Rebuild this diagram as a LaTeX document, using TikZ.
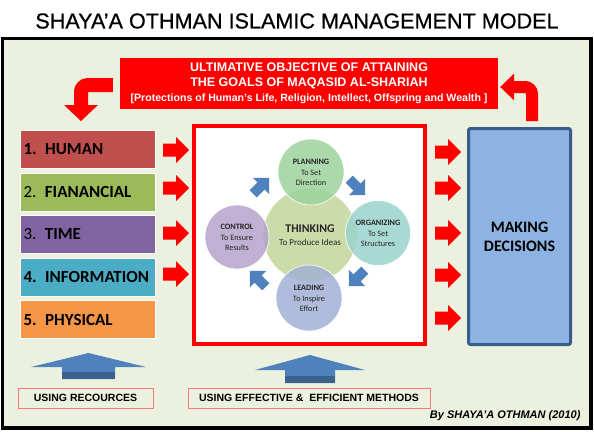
\documentclass[tikz,border=0pt]{standalone}
\usepackage{fontspec}
\setmainfont{Liberation Sans}
\newfontfamily\calibri{Carlito}
\newfontfamily\titlefont{Liberation Sans}[FakeBold=0.6, Ligatures=TeX]
\usetikzlibrary{positioning,shapes,arrows.meta}

\definecolor{panelbg}{HTML}{EBF1DE}
\definecolor{humanred}{HTML}{C0504D}
\definecolor{fingreen}{HTML}{9BBB59}
\definecolor{timepurple}{HTML}{8064A2}
\definecolor{infoaqua}{HTML}{4BACC6}
\definecolor{physorange}{HTML}{F79646}
\definecolor{decblue}{HTML}{8DB3E2}
\definecolor{decborder}{HTML}{385D8A}
\definecolor{arrowblue}{HTML}{4F81BD}
\definecolor{labelpink}{HTML}{F47C7C}
\definecolor{thinkgreen}{HTML}{C3D69B}
\definecolor{plangreen}{HTML}{9DD39D}
\definecolor{organteal}{HTML}{9BD3CC}
\definecolor{leadblue}{HTML}{A3B1D5}
\definecolor{ctrlpurple}{HTML}{B5A3CC}

\tikzstyle{resource}=[rectangle, draw=white, line width=1pt, minimum width=135pt, minimum height=38pt, text width=129pt, align=left, inner xsep=3pt, text=black, font=\calibri\bfseries\fontsize{17}{20}\selectfont]
\tikzstyle{bubble}=[circle, draw=white, line width=0.6pt, fill opacity=0.85, text opacity=1, align=center, text=black!85, inner sep=0pt, font=\calibri\fontsize{8.2}{9.5}\selectfont]
\tikzstyle{usage}=[rectangle, draw=labelpink, line width=0.8pt, minimum height=20pt, font=\bfseries\fontsize{10.5}{12}\selectfont]
\tikzstyle{bent}=[red, rounded corners=7pt]
\tikzset{
  redarrow/.pic={\fill[red] (0,-6.5) -- (13,-6.5) -- (13,-13) -- (26,0) -- (13,13) -- (13,6.5) -- (0,6.5) -- cycle;},
  cyclearrow/.pic={\fill[arrowblue] (-11,-5) -- (0,-5) -- (0,-11.5) -- (11.5,0) -- (0,11.5) -- (0,5) -- (-11,5) -- cycle;}
}

\begin{document}
\begin{tikzpicture}[x=1pt, y=-1pt]
    \useasboundingbox (0,0) rectangle (594,431);

    \node (title) at (297,21) {\titlefont\fontsize{21.6}{24}\selectfont SHAYA’A OTHMAN ISLAMIC MANAGEMENT MODEL};
    \draw[line width=3.5pt, fill=panelbg] (2.5,38.5) rectangle (591,428);

    % objective banner
    \node (goal) [fill=red, minimum width=378pt, minimum height=51pt, text=white, align=center, font=\bfseries\fontsize{12.5}{15}\selectfont] at (309,83.5) {ULTIMATIVE OBJECTIVE OF ATTAINING\\THE GOALS OF MAQASID AL-SHARIAH\\{\fontsize{10.6}{15}\selectfont [Protections of Human's Life, Religion, Intellect, Offspring and Wealth ]}};

    % resources
    \node (res1) [resource, fill=humanred] at (88,149.5) {1. HUMAN};
    \foreach \x/\txt/\col [remember=\x as \lastx (initially 1)] in {2/{\mdseries 2.} FIANANCIAL/fingreen, 3/{\mdseries 3.} TIME/timepurple, 4/4. INFORMATION/infoaqua, 5/5. PHYSICAL/physorange}{
        \node (res\x) [resource, fill=\col, below=3.5pt of res\lastx] {\txt};
    };

    \foreach \y in {150,188,233,274} \pic at (163,\y) {redarrow};
    \foreach \y in {152,188,233,275,318} \pic at (435,\y) {redarrow};

    % methods
    \node (method) [draw=red, line width=4pt, fill=white, minimum width=231pt, minimum height=218pt] at (309.5,235) {};
    \node (think) [bubble, fill=thinkgreen, minimum size=94pt] at (310,235) {{\fontsize{11.8}{13}\selectfont\bfseries THINKING}\\[4pt]{\fontsize{9}{10}\selectfont To Produce Ideas}};
    \node (plan) [bubble, fill=plangreen, minimum size=66pt] at (311,172) {\textbf{PLANNING}\\[2pt]To Set\\Direction};
    \node (organ) [bubble, fill=organteal, minimum size=65pt] at (378,233) {\textbf{ORGANIZING}\\[2pt]To Set\\Structures};
    \node (lead) [bubble, fill=leadblue, minimum size=66pt] at (309,298) {\textbf{LEADING}\\[2pt]To Inspire\\Effort};
    \node (ctrl) [bubble, fill=ctrlpurple, minimum size=64pt] at (237,237) {\textbf{CONTROL}\\[2pt]To Ensure\\Results};

    \pic[rotate=45] at (261,186) {cyclearrow};
    \pic[rotate=-45] at (357,187) {cyclearrow};
    \pic[rotate=-135] at (357,278) {cyclearrow};
    \pic[rotate=135] at (258,279) {cyclearrow};

    % decisions
    \node (dec) [draw=decborder, line width=3pt, fill=decblue, rounded corners=2pt, minimum width=102pt, minimum height=216pt, align=center, font=\calibri\bfseries\fontsize{16}{19}\selectfont] at (519.5,236.5) {MAKING\\DECISIONS};

    % feedback arrows
    \draw[bent, line width=14pt, -{Triangle[width=34pt, length=16pt, line width=0pt]}] ([xshift=-7pt,yshift=-1.5pt]goal.west) -| ([xshift=-7pt,yshift=9pt]res1.north);
    \draw[bent, line width=12pt, -{Triangle[width=27pt, length=14pt, line width=0pt]}] ([xshift=12.5pt,yshift=6pt]dec.north) |- ([xshift=2pt,yshift=-3.5pt]goal.east);

    % bottom arrows and labels
    \fill[arrowblue] (88.5,353) -- (146,367) -- (115,367) -- (115,379) -- (62,379) -- (62,367) -- (31,367) -- cycle;
    \fill[arrowblue!75!black] (62,372) rectangle (115,379);
    \fill[arrowblue] (310,355) -- (365,370) -- (335,370) -- (335,383) -- (285,383) -- (285,370) -- (255,370) -- cycle;
    \fill[arrowblue!75!black] (285,376) rectangle (335,383);

    \node (useres) [usage, minimum width=135pt] at (85.5,398) {USING RECOURCES};
    \node (usemeth) [usage, minimum width=242pt] at (309,398) {USING EFFECTIVE \&\ \ EFFICIENT METHODS};
    \node (author) [anchor=east, font=\bfseries\itshape\fontsize{11}{13}\selectfont] at (584,416) {By SHAYA'A OTHMAN (2010)};
\end{tikzpicture}
\end{document}
